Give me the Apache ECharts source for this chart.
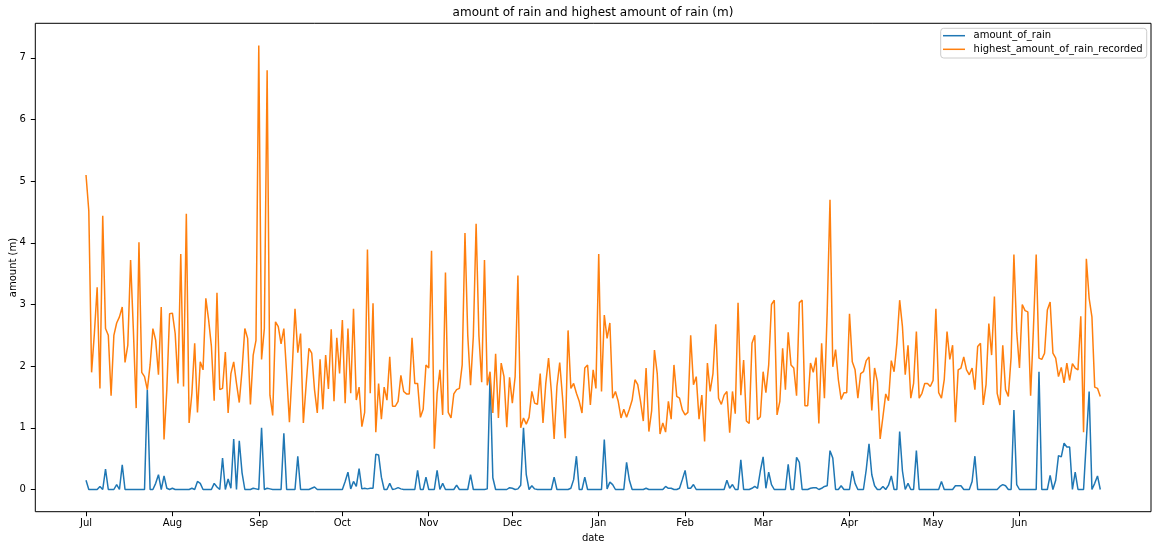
<!DOCTYPE html>
<html><head><meta charset="utf-8">
<script src="https://cdn.jsdelivr.net/npm/echarts@6/dist/echarts.min.js"></script>
<style>html,body{margin:0;padding:0;background:#fff}#c{width:1157px;height:550px}</style>
</head><body><div id="c"></div>
<script>
const monthLabels = ['Jul','Aug','Sep','Oct','Nov','Dec','Jan','Feb','Mar','Apr','May','Jun'];
const monthLengths = [31,31,30,31,30,31,31,28,31,30,31,30];
const yTicks = [0,1,2,3,4,5,6,7];
const seriesNames = ['amount_of_rain','highest_amount_of_rain_recorded'];

const amountOfRain = [
0.15,0,0,0,0,0.05,0,0.33,0,0,
0,0.08,0,0.40,0,0,0,0,0,0,
0,0,1.62,0,0,0.1,0.24,0,0.22,0.02,
0,0.02,0,0,0,0,0,0,0.02,0,
0.13,0.1,0,0,0,0,0.10,0.04,0,0.51,
0,0.17,0.02,0.82,0,0.79,0.27,0,0,0,
0.02,0.01,0,1.0,0,0.02,0.01,0,0,0,
0,0.91,0,0,0,0,0.54,0,0,0,
0,0.02,0.04,0,0,0,0,0,0,0,
0,0,0,0.13,0.28,0.01,0.13,0.05,0.34,0.01,
0.02,0.01,0.02,0.02,0.57,0.56,0.2,0,0,0.1,
0,0.01,0.03,0.01,0,0,0,0,0,0.31,
0,0,0.2,0,0,0,0.31,0,0.1,0,
0,0,0,0.07,0,0,0,0,0.24,0,
0,0,0,0,0.01,1.86,0.19,0,0,0,
0,0,0.03,0.02,0,0.01,0.07,1.0,0.24,0,
0.06,0.01,0,0,0,0,0,0,0.2,0,
0,0,0,0,0.02,0.16,0.54,0,0,0.2,
0,0,0,0,0,0,0.81,0.01,0.12,0.08,
0,0,0,0,0.44,0.15,0,0,0,0,
0,0.02,0,0,0,0,0,0,0.05,0.02,
0.02,0,0,0.02,0.16,0.31,0.02,0.02,0.08,0,
0,0,0,0,0,0,0,0,0,0,
0.15,0.02,0.08,0,0,0.48,0,0,0,0.02,
0.05,0.02,0.3,0.53,0.02,0.28,0.08,0,0,0,
0,0,0.41,0,0,0.52,0.44,0,0,0,
0.02,0.03,0.03,0,0.02,0.05,0.06,0.63,0.51,0,
0,0.06,0,0,0,0.3,0.1,0,0,0,
0.32,0.74,0.24,0.06,0,0,0.05,0,0.07,0.22,
0,0,0.94,0.3,0,0.1,0,0,0.63,0,
0,0,0,0,0,0,0,0.13,0,0,
0,0,0.06,0.06,0.06,0,0,0,0.13,0.54,
0,0,0,0,0,0,0,0,0.05,0.08,
0.06,0,0,1.29,0.08,0,0,0,0,0,
0,0,1.91,0,0,0,0.23,0,0.15,0.55,
0.53,0.75,0.69,0.69,0,0.28,0,0,0,0.8,
1.59,0,0.1,0.22,0
];

const highestAmountOfRainRecorded = [
5.10,4.52,1.90,2.53,3.28,1.64,4.44,2.61,2.50,1.52,
2.50,2.70,2.80,2.96,2.06,2.34,3.72,2.58,1.32,4.01,
1.90,1.83,1.62,2.02,2.61,2.42,1.86,2.96,0.81,1.62,
2.85,2.86,2.53,1.72,3.82,1.67,4.47,1.08,1.56,2.37,
1.25,2.07,1.94,3.10,2.75,2.32,
1.44,3.19,1.62,1.64,2.23,1.24,1.88,2.07,1.72,1.41,
1.94,2.61,2.45,1.38,2.18,2.42,7.20,2.11,2.61,6.80,
1.53,1.20,2.72,2.64,2.36,
2.61,1.88,1.09,1.94,2.93,2.22,2.53,1.08,1.70,2.29,
2.21,1.62,1.24,2.11,1.30,2.18,1.63,
2.60,1.43,2.46,1.88,2.75,1.40,2.61,1.56,2.93,1.45,
1.66,1.02,1.25,3.89,1.56,3.02,0.93,1.72,1.14,1.66,
1.45,2.15,1.35,1.35,1.43,1.85,1.59,1.55,1.55,2.46,
1.72,1.72,1.17,1.30,2.02,1.97,3.87,0.66,1.56,1.94,
1.21,3.52,1.25,1.16,1.55,
1.62,1.64,2.02,4.16,2.5,1.69,2.48,4.31,2.5,1.74,
3.72,1.69,1.91,1.24,2.20,1.16,2.05,1.83,1.01,1.82,
1.40,1.83,3.47,1.00,1.16,1.06,1.17,1.59,1.40,1.38,
1.88,1.08,1.72,2.13,1.59,0.82,1.67,2.06,1.5,0.83,
2.58,1.64,1.72,1.56,1.43,1.24,1.97,
2.02,1.37,1.94,1.64,3.82,1.59,2.83,2.45,2.70,1.48,
1.59,1.43,1.16,1.30,1.17,1.30,1.45,1.78,1.70,1.43,
1.11,1.97,0.94,1.28,2.26,1.88,0.90,1.08,0.93,1.43,
1.14,2.02,1.51,1.48,1.29,1.21,1.25,2.50,1.70,1.83,
1.14,1.53,0.78,
2.05,1.59,1.88,2.68,1.48,1.38,1.53,1.59,0.92,1.59,
1.23,3.03,1.53,2.10,1.11,1.07,2.37,2.50,1.13,1.18,
1.91,1.57,2.02,3.00,3.07,1.21,1.43,2.29,1.62,2.55,
2.02,1.97,1.52,3.03,3.07,1.36,1.36,2.05,1.90,2.14,
1.07,2.37,1.48,2.9,4.70,
1.99,2.27,1.78,1.46,1.57,1.57,2.85,2.07,1.94,1.48,
1.88,1.91,2.09,2.15,1.28,1.97,1.75,0.82,1.18,1.55,
1.44,2.09,1.91,2.37,3.07,2.64,1.86,2.34,1.48,1.72,
2.56,1.48,1.56,1.72,1.72,1.67,1.77,2.93,1.57,1.48,
1.78,2.56,2.11,2.34,1.09,
1.94,1.97,2.15,1.94,1.86,1.97,1.62,2.32,2.37,1.37,
1.70,2.69,2.18,3.13,1.56,1.37,2.34,1.62,1.51,2.15,
3.81,2.56,1.97,3.00,2.90,2.88,1.52,2.6,3.81,2.13,
2.11,2.21,2.91,3.04,2.21,2.13,1.83,1.98,1.73,2.05,
1.77,2.04,1.97,1.94,2.81,0.93,3.74,3.10,2.80,1.66,
1.64,1.51
];

// month tick positions (day index of the 1st of each month)
const monthStarts = [];
let acc = 0;
for (const n of monthLengths) { monthStarts.push(acc); acc += n; }
const labelByDay = {};
monthStarts.forEach((d, i) => { labelByDay[d] = monthLabels[i]; });

const nDays = highestAmountOfRainRecorded.length;
const span = nDays - 1;
const xMin = -0.05 * span, xMax = span * 1.05;
const allVals = amountOfRain.concat(highestAmountOfRainRecorded);
const vMax = Math.max(...allVals), vMin = Math.min(...allVals);
const yPad = 0.05 * (vMax - vMin);
const yMin = vMin - yPad, yMax = vMax + yPad;

const toPairs = arr => arr.map((v, i) => [i, v]);
const FONT = 'DejaVu Sans';
const LINE_ICON = 'path://M0 0H44V3H0Z';

const chart = echarts.init(document.getElementById('c'), null, { renderer: 'canvas' });
chart.setOption({
  animation: false,
  backgroundColor: '#fff',
  textStyle: { fontFamily: FONT },
  graphic: [{
    type: 'text', x: 593, y: 13,
    style: { text: 'amount of rain and highest amount of rain (m)', font: '12px "DejaVu Sans"', fill: '#000', textAlign: 'center', textVerticalAlign: 'middle' }
  }],
  grid: { left: 35.3, right: 6, top: 23.3, bottom: 38.3, show: true, borderColor: '#000', borderWidth: 1,
          containLabel: false, outerBoundsMode: 'none' },
  legend: {
    orient: 'vertical', left: 940.7, top: 28.3,
    data: seriesNames.map(n => ({ name: n, icon: LINE_ICON })),
    itemWidth: 22, itemHeight: 12, itemGap: 3.6,
    symbolKeepAspect: true,
    padding: [2.4, 4, 3.7, 2.3],
    borderColor: '#cccccc', borderWidth: 1, borderRadius: 3,
    backgroundColor: 'rgba(255,255,255,0.8)',
    textStyle: { fontFamily: FONT, fontSize: 10, color: '#000', padding: [0, 0, 0, 3.6] }
  },
  xAxis: {
    type: 'value', min: xMin, max: xMax,
    name: 'date', nameLocation: 'middle', nameGap: 22, nameMoveOverlap: false,
    nameTextStyle: { fontFamily: FONT, fontSize: 10, color: '#000' },
    splitLine: { show: false },
    axisLine: { show: false, onZero: false },
    axisTick: { show: true, customValues: monthStarts, length: 4.5, lineStyle: { color: '#000', width: 1 } },
    axisLabel: { customValues: monthStarts, formatter: v => labelByDay[Math.round(v)] || '', color: '#000', fontSize: 10, fontFamily: FONT, margin: 7 }
  },
  yAxis: {
    type: 'value', min: yMin, max: yMax,
    name: 'amount (m)', nameLocation: 'middle', nameGap: 17, nameMoveOverlap: false,
    nameTextStyle: { fontFamily: FONT, fontSize: 10, color: '#000' },
    splitLine: { show: false },
    axisLine: { show: false, onZero: false },
    axisTick: { show: true, customValues: yTicks, length: 4.5, lineStyle: { color: '#000', width: 1 } },
    axisLabel: { customValues: yTicks, formatter: v => String(Math.round(v)), color: '#000', fontSize: 10, fontFamily: FONT, margin: 9.5 }
  },
  series: [
    { name: seriesNames[0], type: 'line', data: toPairs(amountOfRain), symbol: 'none', showSymbol: false,
      lineStyle: { color: '#1f77b4', width: 1.5 }, itemStyle: { color: '#1f77b4' } },
    { name: seriesNames[1], type: 'line', data: toPairs(highestAmountOfRainRecorded), symbol: 'none', showSymbol: false,
      lineStyle: { color: '#ff7f0e', width: 1.5 }, itemStyle: { color: '#ff7f0e' } }
  ]
});
</script></body></html>
